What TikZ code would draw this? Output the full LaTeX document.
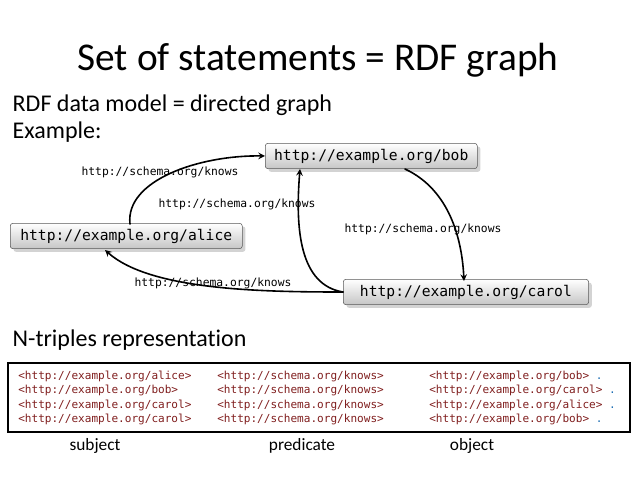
\documentclass[tikz,border=0pt]{standalone}
\usepackage{fontspec}
\setmainfont{Carlito}[Ligatures=NoCommon]
\newfontfamily\monofont{DejaVu Sans Mono}
\usetikzlibrary{shadows}
\tikzset{>=stealth}
\definecolor{uricolor}{RGB}{128,30,30}
\definecolor{dotcolor}{RGB}{30,110,180}
\tikzset{
  resource/.style={draw=gray!70!black,rounded corners=2pt,top color=white,bottom color=gray!45,
    drop shadow={opacity=.35},font=\monofont\fontsize{11}{13}\selectfont,inner sep=0pt,
    minimum height=19pt,anchor=west},
  knows/.style={->,line width=1.2pt,line cap=round},
  pred/.style={font=\monofont\fontsize{8.5}{10}\selectfont},
  triple/.style={font=\monofont\fontsize{8.3}{10}\selectfont,text=uricolor,anchor=west,inner sep=0pt}
}
\begin{document}
\begin{tikzpicture}[x=0.75pt,y=-0.75pt]
    \useasboundingbox (0,0) rectangle (638,478);
    \node at (318,60) {\fontsize{29.5}{34}\selectfont Set of statements = RDF graph};
    \node[anchor=west] at (8,105) {\fontsize{18}{22}\selectfont RDF data model = directed graph};
    \node[anchor=west] at (8,132) {\fontsize{18}{22}\selectfont Example:};
    % graph
    \node[resource,minimum width=159pt] (bob) at (265,156) {http://example.org/bob};
    \node[resource,minimum width=174pt] (alice) at (10,236) {http://example.org/alice};
    \node[resource,minimum width=184pt] (carol) at (343,292) {http://example.org/carol};
    \coordinate (a1) at (130,224);
    \coordinate (a2) at (105,250);
    \coordinate (b1) at (300,169);
    \coordinate (b2) at (405,169);
    \coordinate (c1) at (464,281);
    \draw[knows] (a1) .. controls (125,180) and (200,155) .. (bob.west);
    \draw[knows] (carol.west) .. controls (300,285) and (295,230) .. (b1);
    \draw[knows] (b2) .. controls (450,190) and (462,240) .. (c1);
    \draw[knows] (carol.west) .. controls (260,292) and (150,290) .. (a2);
    \node[pred] (p1) at (160,172) {http://schema.org/knows};
    \node[pred] (p2) at (237,204) {http://schema.org/knows};
    \node[pred] (p3) at (423,229) {http://schema.org/knows};
    \node[pred] (p4) at (213,283) {http://schema.org/knows};
    % triples
    \node[anchor=west] at (8,340) {\fontsize{18}{22}\selectfont N-triples representation};
    \draw[line width=1.2pt] (8,363) rectangle (630,432);
    \foreach \s/\o [count=\r] in {alice/bob,bob/carol,carol/alice,carol/bob} {
        \node[triple] (s\r) at (18,{361.5+\r*14.5}) {<http://example.org/\s>};
        \node[triple] (p\r) at (217,{361.5+\r*14.5}) {<http://schema.org/knows>};
        \node[triple] (o\r) at (429,{361.5+\r*14.5}) {<http://example.org/\o> \textcolor{dotcolor}{.}};
    }
    \node at (95,446) {\fontsize{13}{16}\selectfont subject};
    \node at (302,446) {\fontsize{13}{16}\selectfont predicate};
    \node at (472,446) {\fontsize{13}{16}\selectfont object};
\end{tikzpicture}
\end{document}
